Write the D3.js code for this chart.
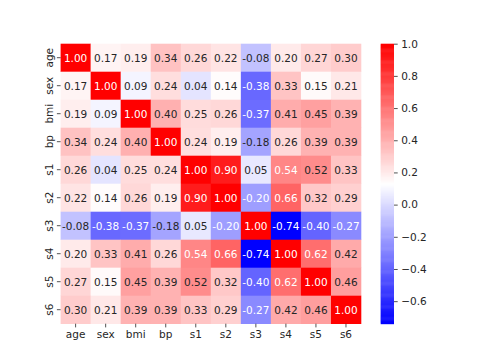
<!DOCTYPE html>
<html><head><meta charset="utf-8">
<script src="https://cdn.jsdelivr.net/npm/d3@7"></script>
<style>body{margin:0;background:#fff}text{font-family:"DejaVu Sans",sans-serif}</style>
</head><body><svg id="c" width="485" height="364"></svg>
<script>
const labels = ["age","sex","bmi","bp","s1","s2","s3","s4","s5","s6"];
const row_age = [1.00,0.17,0.19,0.34,0.26,0.22,-0.08,0.20,0.27,0.30];
const row_sex = [0.17,1.00,0.09,0.24,0.04,0.14,-0.38,0.33,0.15,0.21];
const row_bmi = [0.19,0.09,1.00,0.40,0.25,0.26,-0.37,0.41,0.45,0.39];
const row_bp  = [0.34,0.24,0.40,1.00,0.24,0.19,-0.18,0.26,0.39,0.39];
const row_s1  = [0.26,0.04,0.25,0.24,1.00,0.90,0.05,0.54,0.52,0.33];
const row_s2  = [0.22,0.14,0.26,0.19,0.90,1.00,-0.20,0.66,0.32,0.29];
const row_s3  = [-0.08,-0.38,-0.37,-0.18,0.05,-0.20,1.00,-0.74,-0.40,-0.27];
const row_s4  = [0.20,0.33,0.41,0.26,0.54,0.66,-0.74,1.00,0.62,0.42];
const row_s5  = [0.27,0.15,0.45,0.39,0.52,0.32,-0.40,0.62,1.00,0.46];
const row_s6  = [0.30,0.21,0.39,0.39,0.33,0.29,-0.27,0.42,0.46,1.00];
const colorbarTicks = [1.0,0.8,0.6,0.4,0.2,0.0,-0.2,-0.4,-0.6];

const matrix = [row_age,row_sex,row_bmi,row_bp,row_s1,row_s2,row_s3,row_s4,row_s5,row_s6];
const cells = [];
matrix.forEach((r,i)=>r.forEach((v,j)=>cells.push({row:labels[i],col:labels[j],v})));
const vmin = d3.min(cells,d=>d.v), vmax = d3.max(cells,d=>d.v);

function bwr(t){ // matplotlib bwr, 256 levels
  t = Math.max(0,Math.min(1,t));
  t = Math.min(255,Math.floor(t*256))/255;
  let r,g,b;
  if(t<0.5){ r=g=t*2; b=1; } else { r=1; g=b=1-(t-0.5)*2; }
  return [r,g,b];
}
const norm = d3.scaleLinear().domain([vmin,vmax]).range([0,1]);
const toCss = c=>d3.rgb(c[0]*255,c[1]*255,c[2]*255).toString();
function lum(c){const l=c.map(x=>x<=0.03928?x/12.92:Math.pow((x+0.055)/1.055,2.4));return 0.2126*l[0]+0.7152*l[1]+0.0722*l[2];}

const svg = d3.select("#c");
const L=60.6,R=361,T=43.7,B=323.7;
const x = d3.scaleBand().domain(labels).range([L,R]);
const y = d3.scaleBand().domain(labels).range([T,B]);
const g = svg.append("g");
g.selectAll("rect").data(cells).join("rect")
  .attr("x",d=>x(d.col)).attr("y",d=>y(d.row))
  .attr("width",x.bandwidth()+0.3).attr("height",y.bandwidth()+0.3)
  .attr("fill",d=>toCss(bwr(norm(d.v))));
g.selectAll("text").data(cells).join("text")
  .attr("x",d=>x(d.col)+x.bandwidth()/2).attr("y",d=>y(d.row)+y.bandwidth()/2)
  .attr("text-anchor","middle").attr("dominant-baseline","central")
  .attr("font-size","10.5px")
  .attr("fill",d=>lum(bwr(norm(d.v)))<0.408?"#ffffff":"#262626")
  .text(d=>d.v.toFixed(2));

const xAxis = svg.append("g").attr("transform",`translate(0,${B})`)
  .call(d3.axisBottom(x).tickSize(3.7).tickPadding(3.5));
xAxis.select(".domain").remove();
xAxis.selectAll("text").attr("font-size","10.5px").attr("fill","#262626").attr("font-family","DejaVu Sans");
xAxis.selectAll("line").attr("stroke","#262626").attr("stroke-width",0.8);

const yAxis = svg.append("g").attr("transform",`translate(${L},0)`)
  .call(d3.axisLeft(y).tickSize(3.7).tickPadding(3.5));
yAxis.select(".domain").remove();
yAxis.selectAll("line").attr("stroke","#262626").attr("stroke-width",0.8);
yAxis.selectAll("text").attr("font-size","10.5px").attr("fill","#262626").attr("font-family","DejaVu Sans")
  .attr("x",null).attr("dy",null)
  .attr("text-anchor","middle")
  .attr("transform","translate(-11.5,0) rotate(-90)")
  .attr("dominant-baseline","central");

// colorbar
const CL=380.7,CR=394,cy=d3.scaleLinear().domain([vmin,vmax]).range([B,T]);
const steps=d3.range(256);
svg.append("g").selectAll("rect").data(steps).join("rect")
  .attr("x",CL).attr("width",CR-CL)
  .attr("y",i=>B-(i+1)*(B-T)/256).attr("height",(B-T)/256+0.5)
  .attr("fill",i=>toCss(bwr((i+0.5)/256)));
const cAxis = svg.append("g").attr("transform",`translate(${CR},0)`)
  .call(d3.axisRight(cy).tickValues(colorbarTicks).tickSize(3.7).tickPadding(3.5)
    .tickFormat(d=>(d<0?"\u2212":"")+Math.abs(d).toFixed(1)));
cAxis.select(".domain").remove();
cAxis.selectAll("line").attr("stroke","#262626").attr("stroke-width",0.8);
cAxis.selectAll("text").attr("font-size","10.5px").attr("fill","#262626").attr("font-family","DejaVu Sans");
</script></body></html>
